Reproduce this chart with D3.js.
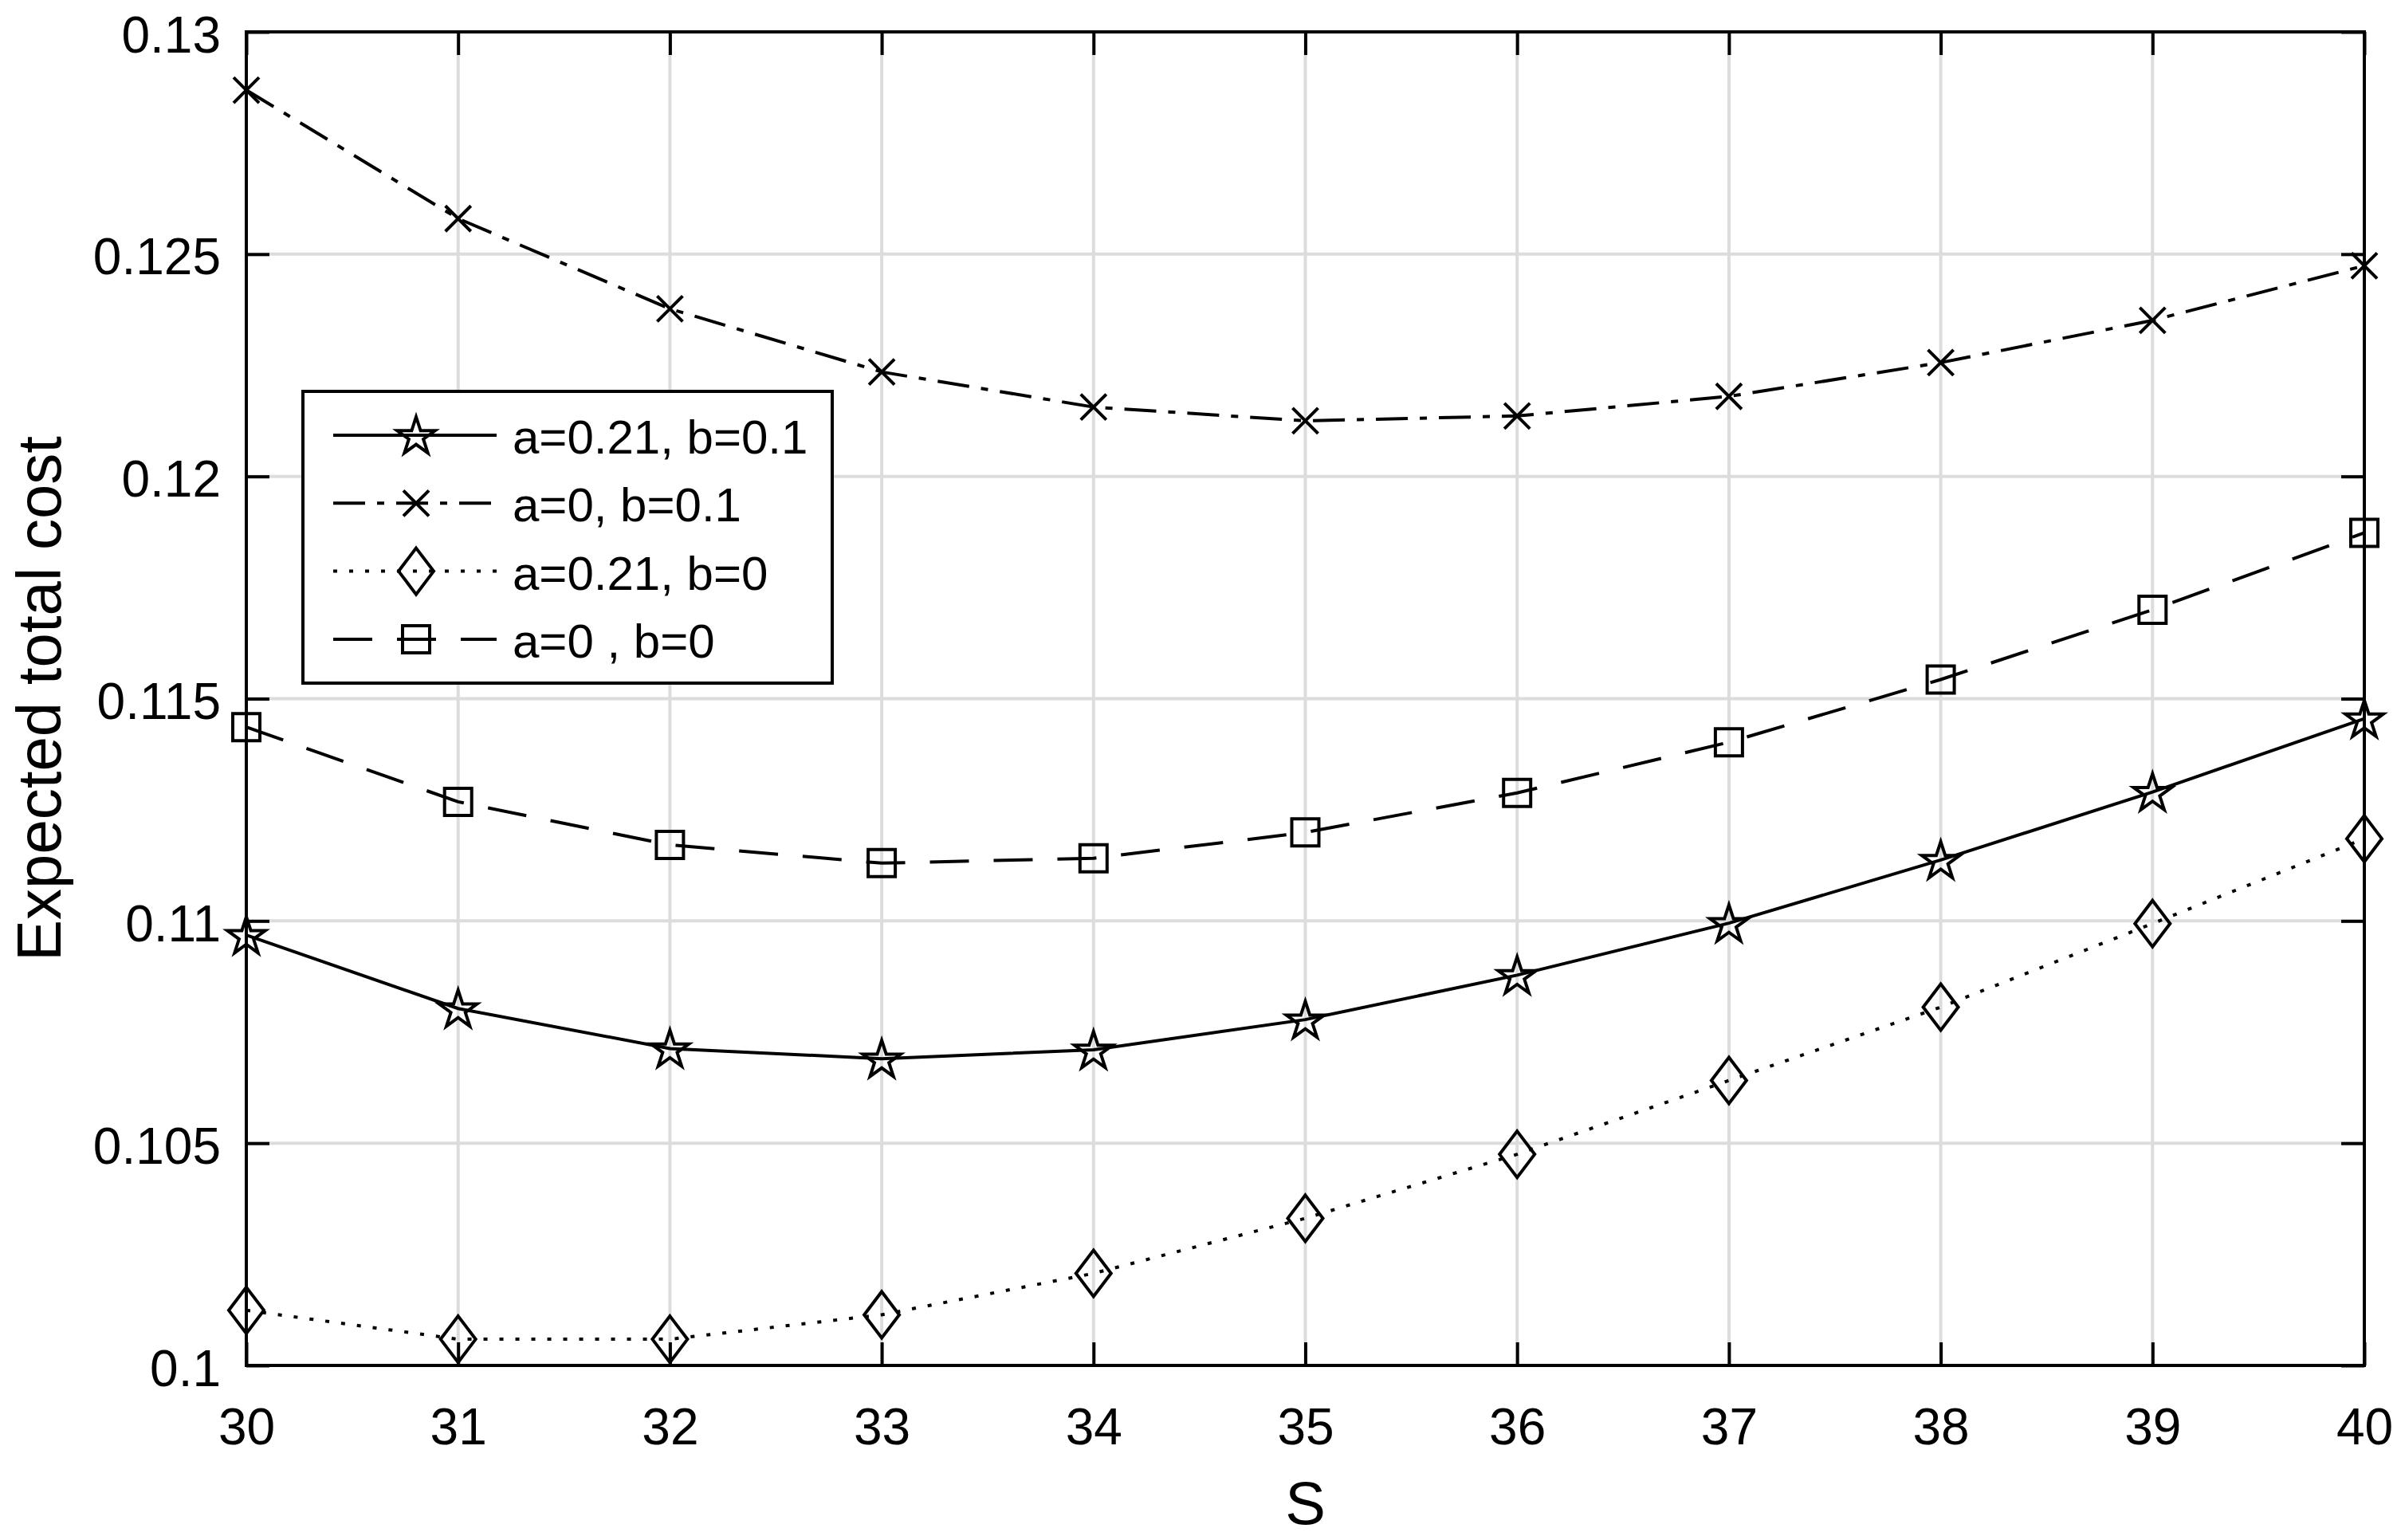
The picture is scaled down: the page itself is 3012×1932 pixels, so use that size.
<!DOCTYPE html>
<html>
<head>
<meta charset="utf-8">
<script src="https://cdn.jsdelivr.net/npm/d3@7"></script>
<style>
  body { margin: 0; background: #fff; }
  text { font-family: "Liberation Sans", Arial, Helvetica, sans-serif; fill: #000; }
</style>
</head>
<body>
<svg id="chart" width="3012" height="1932"></svg>
<script>
// data
var sValues = [30, 31, 32, 33, 34, 35, 36, 37, 38, 39, 40];
var xTicks = [30, 31, 32, 33, 34, 35, 36, 37, 38, 39, 40];
var yTicks = [0.1, 0.105, 0.11, 0.115, 0.12, 0.125, 0.13];

var costA021B01 = [0.10968, 0.10803, 0.10713, 0.10690, 0.10710, 0.10778, 0.10878, 0.10995, 0.11137, 0.11290, 0.11455];
var costA0B01   = [0.12869, 0.12580, 0.12377, 0.12235, 0.12156, 0.12125, 0.12136, 0.12180, 0.12256, 0.12351, 0.12474];
var costA021B0  = [0.10124, 0.10059, 0.10059, 0.10114, 0.10207, 0.10331, 0.10475, 0.10641, 0.10806, 0.10994, 0.11185];
var costA0B0    = [0.11436, 0.11268, 0.11171, 0.11130, 0.11141, 0.11199, 0.11288, 0.11402, 0.11543, 0.11700, 0.11873];

var seriesNames = ['a=0.21, b=0.1', 'a=0, b=0.1', 'a=0.21, b=0', 'a=0 , b=0'];

var series = [
    { name: seriesNames[0], values: costA021B01, dash: null,            marker: 'star' },
    { name: seriesNames[1], values: costA0B01,   dash: '40,15,9,15',    marker: 'x' },
    { name: seriesNames[2], values: costA021B0,  dash: '5,15',          marker: 'diamond' },
    { name: seriesNames[3], values: costA0B0,    dash: '49,31',         marker: 'square' }
];

var margin = { left: 309, top: 40, right: 3012 - 2966, bottom: 1932 - 1713 },
    width = 3012 - margin.left - margin.right,
    height = 1932 - margin.top - margin.bottom,
    lw = 4,
    tickLen = 29,
    gridColor = '#dcdcdc';

var svg = d3.select('#chart');
var g = svg.append('g').attr('transform', 'translate(' + margin.left + ',' + margin.top + ')');

var x = d3.scaleLinear().domain([30, 40]).range([0, width]);
var y = d3.scaleLinear().domain([0.1, 0.13]).range([height, 0]);

// marker shapes, centred on 0,0
function markerPath(type) {
    if (type === 'star') {
        var R = 25, r = R * 0.382, p = [];
        for (var i = 0; i < 10; i++) {
            var rad = (i % 2 === 0) ? R : r,
                a = -Math.PI / 2 + i * Math.PI / 5;
            p.push([rad * Math.cos(a), rad * Math.sin(a) + 2]);
        }
        return 'M' + p.map(function(d) { return d.join(','); }).join('L') + 'Z';
    }
    if (type === 'x') return 'M-16,-16L16,16M-16,16L16,-16';
    if (type === 'diamond') return 'M0,-29L22,0L0,29L-22,0Z';
    if (type === 'square') return 'M-17,-17H17V17H-17Z';
}

// grid
g.append('g').selectAll('line').data(xTicks.slice(1, -1)).enter().append('line')
    .attr('x1', function(d) { return x(d); }).attr('x2', function(d) { return x(d); })
    .attr('y1', 0).attr('y2', height)
    .attr('stroke', gridColor).attr('stroke-width', lw);
g.append('g').selectAll('line').data(yTicks.slice(1, -1)).enter().append('line')
    .attr('y1', function(d) { return y(d); }).attr('y2', function(d) { return y(d); })
    .attr('x1', 0).attr('x2', width)
    .attr('stroke', gridColor).attr('stroke-width', lw);

// lines
var line = d3.line()
    .x(function(d, i) { return x(sValues[i]); })
    .y(function(d) { return y(d); });

series.forEach(function(s) {
    g.append('path')
        .datum(s.values)
        .attr('d', line)
        .attr('fill', 'none')
        .attr('stroke', '#000')
        .attr('stroke-width', lw)
        .attr('stroke-dasharray', s.dash);

    g.append('g').selectAll('path').data(s.values).enter().append('path')
        .attr('d', markerPath(s.marker))
        .attr('transform', function(d, i) { return 'translate(' + x(sValues[i]) + ',' + y(d) + ')'; })
        .attr('fill', 'none')
        .attr('stroke', '#000')
        .attr('stroke-width', lw)
        .attr('stroke-linejoin', 'miter');
});

// axes, ticks pointing inwards on all four sides
function styleAxis(sel) {
    sel.select('.domain').remove();
    sel.selectAll('.tick line').attr('stroke', '#000').attr('stroke-width', lw);
    sel.selectAll('text').style('font-size', '64px').attr('fill', '#000');
}

var fmt = function(d) { return String(+d.toFixed(3)); };

var xAxis = g.append('g').attr('transform', 'translate(0,' + height + ')')
    .call(d3.axisBottom(x).tickValues(xTicks).tickSize(-tickLen).tickFormat(fmt));
styleAxis(xAxis);
xAxis.selectAll('text').attr('y', 99).attr('dy', null);

g.append('g').call(d3.axisTop(x).tickValues(xTicks).tickSize(-tickLen).tickFormat(''))
    .call(styleAxis);

var yAxis = g.append('g')
    .call(d3.axisLeft(y).tickValues(yTicks).tickSize(-tickLen).tickPadding(32).tickFormat(fmt));
styleAxis(yAxis);
yAxis.selectAll('text').attr('dy', null).attr('y', 25);

g.append('g').attr('transform', 'translate(' + width + ',0)')
    .call(d3.axisRight(y).tickValues(yTicks).tickSize(-tickLen).tickFormat(''))
    .call(styleAxis);

// box
g.append('rect')
    .attr('width', width).attr('height', height)
    .attr('fill', 'none').attr('stroke', '#000').attr('stroke-width', lw);

// axis labels
svg.append('text')
    .attr('x', margin.left + width / 2).attr('y', 1912)
    .attr('text-anchor', 'middle')
    .style('font-size', '76px')
    .text('S');

svg.append('text')
    .attr('transform', 'translate(76,' + (margin.top + height / 2) + ') rotate(-90)')
    .attr('text-anchor', 'middle')
    .style('font-size', '78px')
    .text('Expected total cost');

// legend
var legend = svg.append('g').attr('transform', 'translate(380,491)');
legend.append('rect')
    .attr('width', 664).attr('height', 366)
    .attr('fill', '#fff').attr('stroke', '#000').attr('stroke-width', lw);

var rows = legend.selectAll('.row').data(series).enter().append('g')
    .attr('class', 'row')
    .attr('transform', function(d, i) { return 'translate(0,' + (55 + i * 85.3) + ')'; });

rows.append('line')
    .attr('x1', 38).attr('x2', 243)
    .attr('stroke', '#000').attr('stroke-width', lw)
    .attr('stroke-dasharray', function(d) { return d.dash; });
rows.append('path')
    .attr('d', function(d) { return markerPath(d.marker); })
    .attr('transform', 'translate(142,0)')
    .attr('fill', 'none').attr('stroke', '#000').attr('stroke-width', lw);
rows.append('text')
    .attr('x', 263).attr('y', 23)
    .style('font-size', '60px')
    .text(function(d) { return d.name; });
</script>
</body>
</html>
